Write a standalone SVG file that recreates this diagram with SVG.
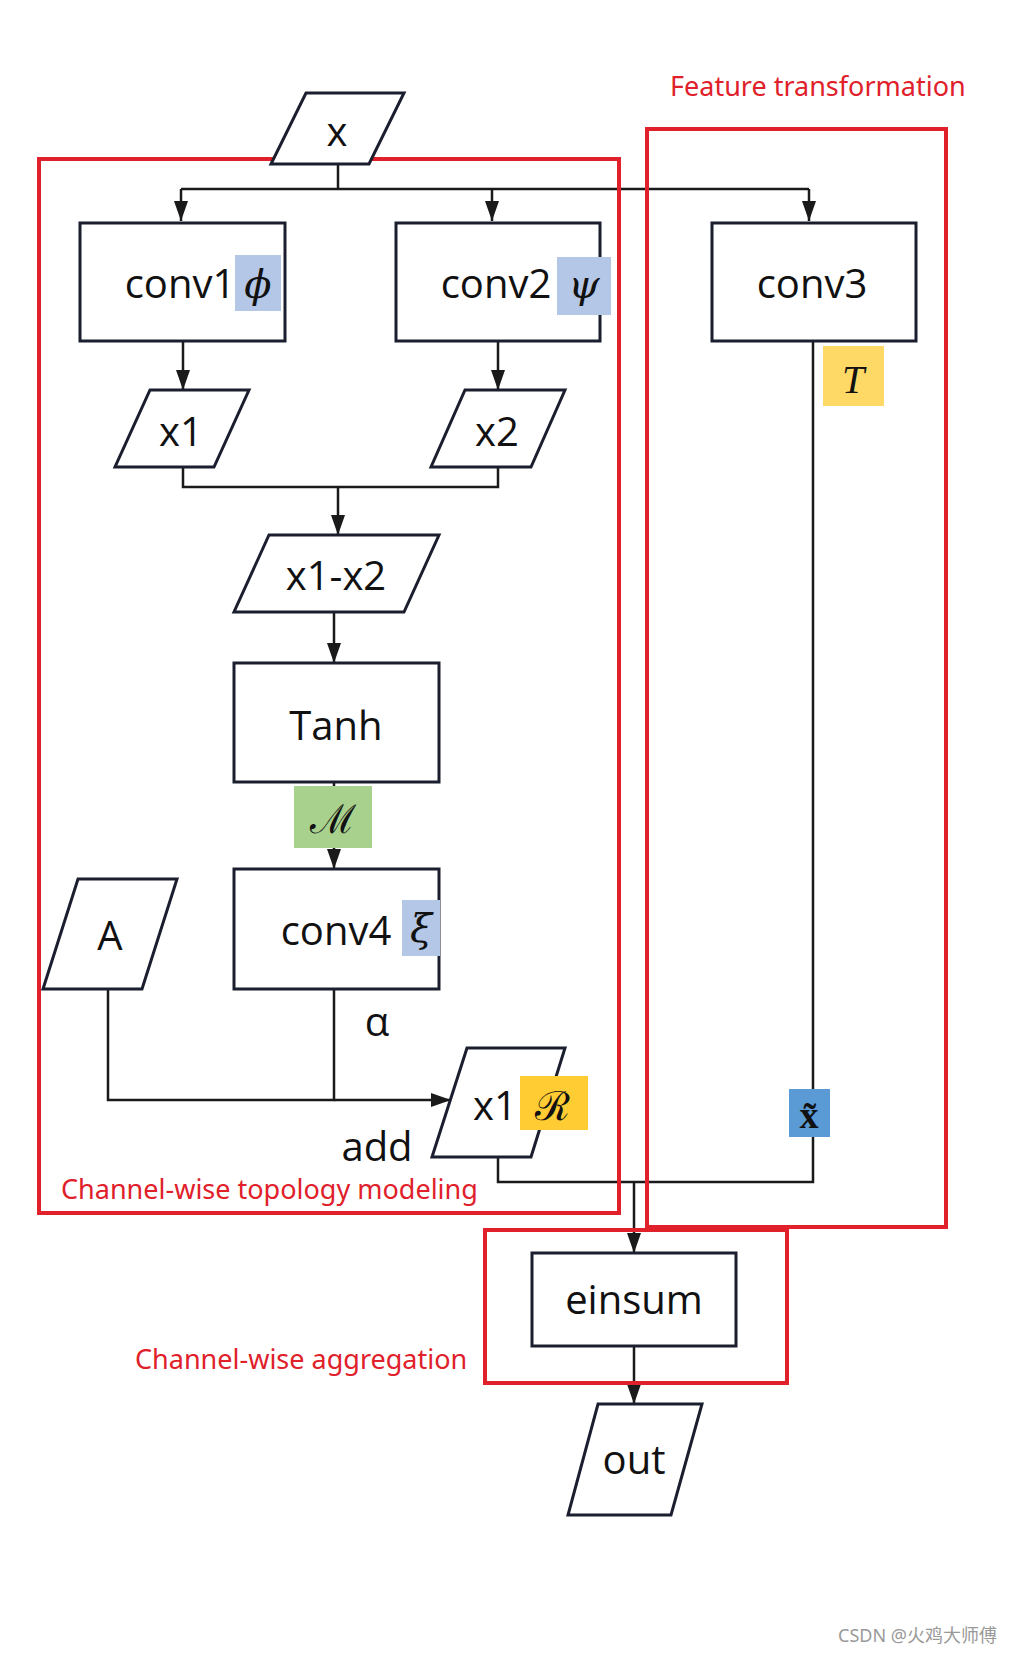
<svg xmlns="http://www.w3.org/2000/svg" width="1013" height="1654" viewBox="0 0 1013 1654">
<defs>
<marker id="ah" viewBox="0 0 20 14" refX="20" refY="7" markerWidth="22" markerHeight="14" markerUnits="userSpaceOnUse" orient="auto"><path d="M0,0 L20,7 L0,14 z" fill="#1a1a1a"/></marker>
<style>
.n{fill:#fff;stroke:#1a1e2e;stroke-width:3}
.t{font-family:"Open Sans","Noto Sans",sans-serif;font-size:40px;fill:#111;text-anchor:middle}
.m{font-family:"DejaVu Serif","Liberation Serif",serif;font-style:italic;font-size:40px;fill:#111;text-anchor:middle}
.r{fill:none;stroke:#e0202a;stroke-width:4}
.rt{font-family:"Noto Sans","Open Sans",sans-serif;font-size:27px;fill:#e0202a}
.c{fill:none;stroke:#1a1a1a;stroke-width:2.5}
.ca{fill:none;stroke:#1a1a1a;stroke-width:2.5;marker-end:url(#ah)}
</style>
</defs>
<rect width="1013" height="1654" fill="#fff"/>
<g id="connectors">
<path class="c" d="M338,164 V189 M181,189 H809"/>
<path class="ca" d="M181,189 V221"/>
<path class="ca" d="M492,189 V221"/>
<path class="ca" d="M809,189 V221"/>
<path class="ca" d="M183,341 V390"/>
<path class="ca" d="M498,341 V390"/>
<path class="c" d="M183,467 V487 H498 V467"/>
<path class="ca" d="M338,487 V535"/>
<path class="ca" d="M334,612 V663"/>
<path class="ca" d="M334,782 V869"/>
<path class="c" d="M108,989 V1100 H334 V989"/>
<path class="ca" d="M334,1100 H451"/>
<path class="c" d="M498,1157 V1182 H813 V341"/>
<path class="ca" d="M634,1182 V1253"/>
<path class="ca" d="M634,1346 V1404"/>
</g>
<g id="groups">
<rect class="r" x="39" y="159" width="580" height="1054"/>
<rect class="r" x="647" y="129" width="299" height="1098"/>
<rect class="r" x="485" y="1230" width="302" height="153"/>
<text class="rt" x="670" y="96">Feature transformation</text>
<text class="rt" x="61" y="1199">Channel-wise topology modeling</text>
<text class="rt" x="135" y="1369">Channel-wise aggregation</text>
</g>
<g id="x"><polygon class="n" points="306,93 404,93 369,164 271,164"/><text class="t" x="337" y="146">x</text></g>
<g id="conv1"><rect class="n" x="80" y="223" width="205" height="118"/><rect x="235" y="255" width="46" height="56" fill="#b4c7e7"/><text class="t" x="180" y="298">conv1</text><text class="m" x="258" y="298">ϕ</text></g>
<g id="conv2"><rect class="n" x="396" y="223" width="204" height="118"/><rect x="557" y="257" width="54" height="58" fill="#b4c7e7"/><text class="t" x="496" y="298">conv2</text><text class="m" x="584" y="298">ψ</text></g>
<g id="conv3"><rect class="n" x="712" y="223" width="204" height="118"/><text class="t" x="812" y="298">conv3</text></g>
<g id="T"><rect x="823" y="346" width="61" height="60" fill="#ffd966"/><text class="m" x="853" y="393" style="font-family:'Liberation Serif',serif">T</text></g>
<g id="x1"><polygon class="n" points="150,390 249,390 214,467 115,467"/><text class="t" x="181" y="446">x1</text></g>
<g id="x2"><polygon class="n" points="465,390 565,390 531,467 431,467"/><text class="t" x="497" y="446">x2</text></g>
<g id="x1-x2"><polygon class="n" points="269,535 439,535 404,612 234,612"/><text class="t" x="336" y="590">x1-x2</text></g>
<g id="tanh"><rect class="n" x="234" y="663" width="205" height="119"/><text class="t" x="336" y="740">Tanh</text></g>
<g id="M"><rect x="294" y="786" width="78" height="62" fill="#a9d18e"/><text class="m" x="333" y="833" style="font-style:normal">ℳ</text></g>
<g id="conv4"><rect class="n" x="234" y="869" width="205" height="120"/><rect x="402" y="900" width="38" height="56" fill="#b4c7e7"/><text class="t" x="336" y="945">conv4</text><text class="m" x="421" y="942">ξ</text></g>
<g id="A"><polygon class="n" points="78,879 177,879 142,989 43,989"/><text class="t" x="110" y="950">A</text></g>
<text class="t" x="377" y="1036">α</text>
<g id="x1R"><polygon class="n" points="467,1048 565,1048 531,1157 432,1157"/><rect x="520" y="1076" width="68" height="54" fill="#ffcc33"/><text class="t" x="495" y="1120">x1</text><text class="m" x="552" y="1120" style="font-style:normal">ℛ</text></g>
<text class="t" x="377" y="1161">add</text>
<g id="xt"><rect x="789" y="1089" width="41" height="48" fill="#5b9bd5"/><text x="809" y="1128" style="font-family:'Liberation Serif',serif;font-weight:bold;font-size:38px;fill:#111;text-anchor:middle">x̃</text></g>
<g id="einsum"><rect class="n" x="532" y="1253" width="204" height="93"/><text class="t" x="634" y="1314">einsum</text></g>
<g id="out"><polygon class="n" points="598,1404 702,1404 671,1515 568,1515"/><text class="t" x="634" y="1474">out</text></g>
<text x="997" y="1642" style="font-family:'Noto Sans','Noto Sans CJK SC',sans-serif;font-size:18px;fill:#999;text-anchor:end">CSDN @火鸡大师傅</text>
</svg>
